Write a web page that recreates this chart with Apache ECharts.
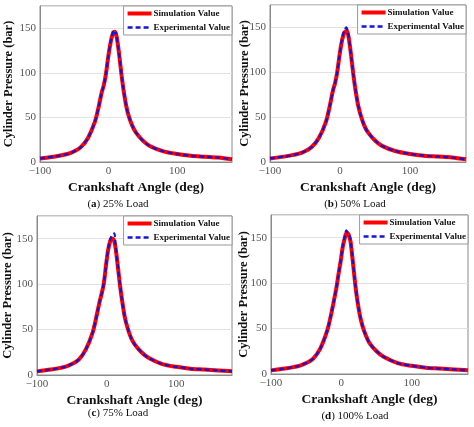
<!DOCTYPE html>
<html>
<head>
<meta charset="utf-8">
<script src="https://cdn.jsdelivr.net/npm/echarts@6/dist/echarts.min.js"></script>
<style>
  html, body { margin: 0; padding: 0; background: #fff; }
</style>
</head>
<body>
<div id="myChart" style="width:474px;height:427px;"></div>
<script>
// crank angles (deg)
const angles = [-100, -80, -60, -50, -40, -30, -20, -15, -10, -7, -4, -1, 2, 5, 7, 9, 11, 13, 16, 19, 22, 26, 30, 35, 40, 50, 60, 80, 100, 120, 140, 160, 180];

// cylinder pressure (bar)
const simA = [4, 6, 9, 12, 17, 27, 45, 60, 78, 86, 98, 115, 130, 141, 145, 146, 143, 135, 117, 97, 80, 62, 50, 40, 33, 24, 18, 12, 9, 7, 6, 5, 3];
const expA = [4, 6, 9, 12, 17, 27, 45, 60, 78, 86, 98, 115, 131, 142, 148, 144, 145, 134, 117, 97, 80, 62, 50, 40, 33, 24, 18, 12, 9, 7, 6, 5, 3];
const simB = [4, 6, 9, 12, 17, 27, 45, 61, 80, 88, 100, 117, 132, 142, 145, 146, 144, 136, 118, 98, 81, 63, 51, 40, 33, 24, 18, 12, 9, 7, 6, 5, 3];
const expB = [4, 6, 9, 12, 17, 27, 45, 61, 80, 88, 100, 117, 133, 144, 148, 150, 146, 136, 118, 98, 81, 63, 51, 40, 33, 24, 18, 12, 9, 7, 6, 5, 3];
const simC = [4, 6, 9, 12, 17, 28, 47, 63, 81, 90, 101, 120, 137, 147, 150, 150, 147, 139, 120, 100, 83, 64, 52, 41, 34, 25, 19, 12, 9, 7, 6, 5, 4];
const expC = [4, 6, 9, 12, 17, 28, 47, 63, 81, 90, 101, 120, 138, 149, 153, 155, 156, 141, 120, 100, 83, 64, 52, 41, 34, 25, 19, 12, 9, 7, 6, 5, 4];
const simD = [4, 6, 9, 12, 17, 28, 48, 64, 83, 95, 110, 124, 140, 150, 155, 155, 152, 146, 126, 104, 85, 66, 53, 42, 34, 25, 19, 12, 9, 7, 6, 5, 4];
const expD = [4, 6, 9, 12, 17, 28, 48, 64, 83, 95, 110, 124, 141, 152, 158, 156, 154, 147, 126, 104, 85, 66, 53, 42, 34, 25, 19, 12, 9, 7, 6, 5, 4];

const yTicks = [0, 50, 100, 150];
const xTicks = [-100, 0, 100];
const captions = [["a", "25% Load"], ["b", "50% Load"], ["c", "75% Load"], ["d", "100% Load"]];
const simSets = [simA, simB, simC, simD];
const expSets = [expA, expB, expC, expD];

const serif = "Liberation Serif";
const red = "#ff0000";
const blue = "#1414d8";

// plot boxes [left, top, width, height]
const boxes = [
  [40, 6, 192, 156],
  [270, 5, 196, 157],
  [37, 216, 195, 159],
  [271, 215, 197, 159]
];
const yNameGaps = [25, 19, 23, 21];
const captionPos = [[118, 199], [355, 199], [118, 408], [355, 411]];

let myChart = echarts.init(document.getElementById("myChart"));

let grids = [], xAxes = [], yAxes = [], series = [], legends = [], titles = [];
for (let i = 0; i < 4; i++) {
  let b = boxes[i];
  grids.push({
    left: b[0], top: b[1], width: b[2], height: b[3],
    show: true, borderColor: "#8a8a8a", borderWidth: 1, backgroundColor: "#fff"
  });
  xAxes.push({
    gridIndex: i,
    type: "value",
    min: -100,
    max: 180,
    interval: 100,
    name: "Crankshaft Angle (deg)",
    nameLocation: "middle",
    nameGap: 19,
    nameMoveOverlap: false,
    nameTextStyle: { fontFamily: serif, fontWeight: "bold", fontSize: 13.5, color: "#111" },
    axisLine: { show: true, onZero: false, lineStyle: { color: "#8a8a8a" } },
    axisTick: { show: false },
    splitLine: { show: false },
    axisLabel: {
      showMaxLabel: false,
      fontFamily: serif, fontSize: 11, color: "#555", margin: 4,
      formatter: v => (xTicks.indexOf(v) >= 0 ? String(v).replace("-", "\u2212") : "")
    }
  });
  yAxes.push({
    gridIndex: i,
    type: "value",
    min: 0,
    max: 175,
    interval: 50,
    name: "Cylinder Pressure (bar)",
    nameLocation: "middle",
    nameGap: yNameGaps[i],
    nameMoveOverlap: false,
    nameTextStyle: { fontFamily: serif, fontWeight: "bold", fontSize: 12.5, color: "#111" },
    axisLine: { show: true, onZero: false, lineStyle: { color: "#8a8a8a" } },
    axisTick: { show: false },
    splitLine: { show: true, lineStyle: { color: "#e2e2e2", width: 1 } },
    axisLabel: {
      showMaxLabel: false,
      fontFamily: serif, fontSize: 11, color: "#555", margin: 4,
      formatter: v => (yTicks.indexOf(v) >= 0 ? String(v) : "")
    }
  });
  series.push({
    name: "Simulation Value",
    type: "line",
    xAxisIndex: i, yAxisIndex: i,
    showSymbol: false, symbol: "none",
    smooth: 0.3,
    lineStyle: { color: red, width: 4 },
    itemStyle: { color: red },
    data: angles.map((a, k) => [a, simSets[i][k]])
  });
  series.push({
    name: "Experimental Value",
    type: "line",
    xAxisIndex: i, yAxisIndex: i,
    showSymbol: false, symbol: "none",
    smooth: 0.3,
    lineStyle: { color: blue, width: 2.2, type: [5, 3] },
    itemStyle: { color: blue },
    data: angles.map((a, k) => [a, expSets[i][k]])
  });
  legends.push({
    right: 474 - (b[0] + b[2]),
    top: b[1],
    orient: "vertical",
    selectedMode: false,
    backgroundColor: "#fff",
    borderColor: "#999",
    borderWidth: 1,
    borderRadius: 0,
    padding: [3, 2, 3, 2],
    itemGap: 5,
    itemWidth: 24,
    itemHeight: 8,
    itemStyle: { opacity: 0 },
    textStyle: { fontFamily: serif, fontWeight: "bold", fontSize: 9, color: "#111", padding: [0, 0, 0, -3] },
    data: [
      { name: "Simulation Value", lineStyle: { color: red, width: 4 } },
      { name: "Experimental Value", lineStyle: { color: blue, width: 2.5, type: [5, 3] } }
    ]
  });
  titles.push({
    text: "({b|" + captions[i][0] + "}) " + captions[i][1],
    left: captionPos[i][0],
    textAlign: "center",
    top: captionPos[i][1],
    padding: 0,
    textStyle: {
      fontFamily: serif, fontSize: 11, fontWeight: "normal", color: "#111",
      rich: { b: { fontFamily: serif, fontSize: 11, fontWeight: "bold", color: "#111" } }
    }
  });
}

let option = {
  animation: false,
  title: titles,
  legend: legends,
  grid: grids,
  xAxis: xAxes,
  yAxis: yAxes,
  series: series
};
myChart.setOption(option, true);
</script>
</body>
</html>
